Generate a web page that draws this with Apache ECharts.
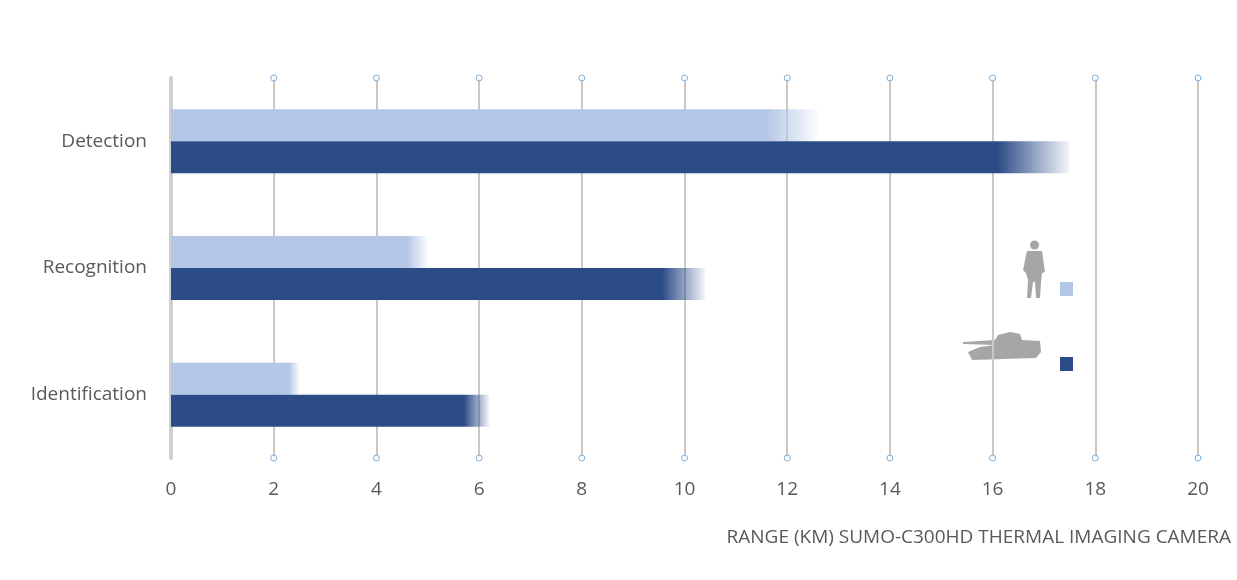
<!DOCTYPE html>
<html>
<head>
<meta charset="utf-8">
<script src="https://cdn.jsdelivr.net/npm/echarts@6/dist/echarts.min.js"></script>
<style>html,body{margin:0;padding:0;background:#fff}#chart{width:1237px;height:580px}</style>
</head>
<body>
<div id="chart"></div>
<script>
const categories = ['Identification', 'Recognition', 'Detection'];
const personRange = [2.5, 5.0, 12.6];
const vehicleRange = [6.2, 10.4, 17.5];
const tickValues = [2, 4, 6, 8, 10, 12, 14, 16, 18, 20];

const chart = echarts.init(document.getElementById('chart'));

function fadeBar(values, color) {
  return values.map(v => ({
    value: v,
    itemStyle: {
      color: {
        type: 'linear', x: 0, y: 0, x2: 1, y2: 0,
        colorStops: [
          { offset: 0, color: color },
          { offset: 0.92, color: color },
          { offset: 1, color: echarts.color.modifyAlpha(color, 0.05) }
        ]
      }
    }
  }));
}

const dots = [];
tickValues.forEach(t => { dots.push([t, 0]); dots.push([t, 1]); });

chart.setOption({
  animation: false,
  grid: { left: 171, right: 39, top: 78, bottom: 122 },
  xAxis: {
    type: 'value', min: 0, max: 20, interval: 2,
    axisLine: { show: false }, axisTick: { show: false },
    splitLine: { show: true, lineStyle: { color: '#c8c8c8', width: 2 } },
    axisLabel: { color: '#595959', fontSize: 19, margin: 22, fontFamily: 'Open Sans' }
  },
  yAxis: [{
    type: 'category', data: categories,
    axisLine: { show: true, lineStyle: { color: '#d0d0d0', width: 4 } },
    axisTick: { show: false },
    axisLabel: { color: '#595959', fontSize: 19, margin: 24, fontFamily: 'Open Sans' }
  }, {
    type: 'value', min: 0, max: 1, show: false
  }],
  series: [{
    type: 'bar', data: fadeBar(personRange, '#b4c7e7'),
    barWidth: 32, barGap: '0%', z: 3
  }, {
    type: 'bar', data: fadeBar(vehicleRange, '#2c4c87'),
    barWidth: 32, z: 3
  }, {
    type: 'scatter', yAxisIndex: 1, data: dots, symbol: 'circle', symbolSize: 6,
    itemStyle: { color: '#fff', borderColor: '#5b9bd5', borderWidth: 1 }, z: 4
  }],
  graphic: [
    { type: 'text', x: 1231, y: 528, style: { text: 'RANGE (KM) SUMO-C300HD THERMAL IMAGING CAMERA', fill: '#595959', font: '19px "Open Sans"', textAlign: 'right', letterSpacing: 1.5 } },
    { type: 'rect', shape: { x: 1060, y: 282, width: 13, height: 14 }, style: { fill: '#b4c7e7' } },
    { type: 'rect', shape: { x: 1060, y: 357, width: 13, height: 14 }, style: { fill: '#2c4c87' } },
    { type: 'circle', shape: { cx: 1034.5, cy: 245, r: 4.5 }, style: { fill: '#a6a6a6' } },
    { type: 'polygon', shape: { points: [[1027,251],[1042,251],[1045,272],[1042,273],[1041,282],[1040,298],[1036,298],[1035,282],[1033,282],[1031,298],[1027,298],[1028,280],[1026,273],[1023,270]] }, style: { fill: '#a6a6a6' } },
    { type: 'polygon', shape: { points: [[963,342],[995,340],[998,335],[1010,332],[1020,334],[1022,340],[1040,341],[1041,352],[1036,358],[972,360],[968,352],[980,347],[995,345],[963,344]] }, style: { fill: '#a6a6a6' } }
  ]
});
</script>
</body>
</html>
